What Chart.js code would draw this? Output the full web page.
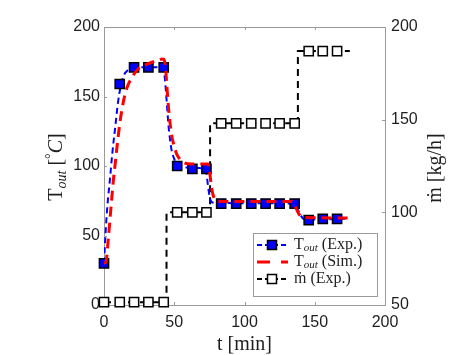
<!DOCTYPE html>
<html>
<head>
<meta charset="utf-8">
<script src="https://cdn.jsdelivr.net/npm/chart.js@4/dist/chart.umd.min.js"></script>
<style>html,body{margin:0;padding:0;background:#fff;}canvas{display:block;}</style>
</head>
<body>
<canvas id="c" width="474" height="355"></canvas>
<script>
// ---- data ----
const times   = [0, 11.2, 21.4, 31.6, 42.5, 52.1, 62.9, 72.9, 83.4, 94.1, 104.8, 115, 125, 135.7, 145.7, 155.7, 165.9];
const toutExp = [30, 159, 171, 171, 171, 100, 98, 98, 73, 73, 73, 73, 73, 73, 61, 62, 62];
const mdotExp = [51.5, 51.5, 51.5, 51.5, 51.5, 100, 100, 100, 148, 148, 148, 148, 148, 148, 187, 187, 187];
const mdotStepTimes = [44.5, 75.5, 138];
const mdotEndTime = 175;

const fitT = [0, 1, 2, 3, 4, 6, 8, 10, 12, 14, 16, 19, 22, 42, 43, 44, 45, 46, 47, 48, 50, 52, 55, 72, 73, 74, 75, 76, 78, 134, 136, 138, 140, 142, 145, 172];
const fitV = [30, 50, 66, 78, 88, 110, 128, 146, 158, 165, 168, 170, 171, 171, 166, 155, 141, 128, 119, 112, 105, 101, 99, 98, 94, 86, 79, 75, 73.5, 73, 72, 68.5, 64.5, 62, 61.5, 62];

const simT = [0, 1.4, 3, 4.7, 6.5, 7.8, 9.5, 11.3, 13, 14.8, 17, 19.5, 22, 25.5, 30, 35, 42, 43, 44, 45, 46, 47, 48, 50, 52, 55, 58, 62, 74, 75, 76, 77, 78, 80, 85, 134, 135, 137, 139, 141, 145, 174];
const simV = [30, 31, 47, 67, 88, 100, 116, 131, 142, 151, 158, 163, 167, 171, 173, 175, 177, 176, 168, 154, 141, 131, 123, 114, 108, 104, 102, 101.5, 101.5, 97, 89, 82, 78, 75, 74.5, 74.5, 73, 69, 65, 63.5, 63, 62.5];

const xTicks = [0, 50, 100, 150, 200];
const yLeftTicks = [0, 50, 100, 150, 200];
const yRightTicks = [50, 100, 150, 200];

const legendLabels = ['(Exp.)', '(Sim.)', '(Exp.)'];

// ---- build datasets ----
const pts = (xs, ys) => xs.map((x, i) => ({x: x, y: ys[i]}));
const mdotLine = [];
let k = 0;
times.forEach((t, i) => {
  mdotLine.push({x: t, y: mdotExp[i]});
  if (i < times.length - 1 && mdotExp[i + 1] !== mdotExp[i]) {
    mdotLine.push({x: mdotStepTimes[k], y: mdotExp[i], corner: true});
    mdotLine.push({x: mdotStepTimes[k], y: mdotExp[i + 1], corner: true});
    k++;
  }
});
mdotLine.push({x: mdotEndTime, y: mdotExp[mdotExp.length - 1], corner: true});

const AX = '#9a9a9a', TXT = '#1e1e1e';
const SERIF = '"Liberation Serif", "DejaVu Serif", serif';

function richWidth(ctx, parts) {
  let w = 0;
  parts.forEach(p => { ctx.font = p.f; w += ctx.measureText(p.t).width; });
  return w;
}
function drawRich(ctx, parts, x, y) {
  let cx = x;
  parts.forEach(p => {
    ctx.font = p.f;
    ctx.fillText(p.t, cx, y + (p.dy || 0));
    cx += ctx.measureText(p.t).width;
  });
}
function toutParts(size, rest) {
  return [
    {t: 'T', f: size + 'px ' + SERIF},
    {t: 'out', f: 'italic ' + Math.round(size * 0.7) + 'px ' + SERIF, dy: size * 0.22},
    {t: rest, f: size + 'px ' + SERIF}
  ];
}

const decor = {
  id: 'decor',
  beforeDatasetsDraw(chart) {
    const {ctx, chartArea: a, scales} = chart;
    ctx.save();
    ctx.strokeStyle = AX; ctx.lineWidth = 1;
    ctx.strokeRect(a.left + 0.5, a.top + 0.5, a.right - a.left, a.bottom - a.top);
    const tl = 3;
    ctx.beginPath();
    xTicks.forEach(v => {
      const px = Math.round(scales.x.getPixelForValue(v)) + 0.5;
      ctx.moveTo(px, a.bottom); ctx.lineTo(px, a.bottom - tl);
      ctx.moveTo(px, a.top); ctx.lineTo(px, a.top + tl);
    });
    yLeftTicks.forEach(v => {
      const py = Math.round(scales.y.getPixelForValue(v)) + 0.5;
      ctx.moveTo(a.left, py); ctx.lineTo(a.left + tl, py);
    });
    yRightTicks.forEach(v => {
      const py = Math.round(scales.y2.getPixelForValue(v)) + 0.5;
      ctx.moveTo(a.right, py); ctx.lineTo(a.right - tl, py);
    });
    ctx.stroke();
    ctx.restore();
  },
  afterDraw(chart) {
    const {ctx} = chart;
    ctx.save();
    ctx.fillStyle = TXT;
    ctx.textBaseline = 'middle';
    // left axis title
    const lp = [
      {t: 'T', f: '20px ' + SERIF},
      {t: 'out', f: 'italic 14px ' + SERIF, dy: 5},
      {t: ' [', f: '20px ' + SERIF},
      {t: '°', f: '14px ' + SERIF, dy: -6},
      {t: 'C', f: 'italic 20px ' + SERIF},
      {t: ']', f: '20px ' + SERIF}
    ];
    ctx.save();
    ctx.translate(57, 167);
    ctx.rotate(-Math.PI / 2);
    drawRich(ctx, lp, -richWidth(ctx, lp) / 2, 0);
    ctx.restore();
    // right axis title
    const rp = [{t: 'ṁ [kg/h]', f: '20px ' + SERIF}];
    ctx.save();
    ctx.translate(436, 168);
    ctx.rotate(-Math.PI / 2);
    drawRich(ctx, rp, -richWidth(ctx, rp) / 2, 0);
    ctx.restore();

    // legend
    const bx = 253, by = 233, bw = 124, bh = 63;
    ctx.fillStyle = '#fff';
    ctx.fillRect(bx, by, bw, bh);
    ctx.strokeStyle = AX; ctx.lineWidth = 1;
    ctx.strokeRect(bx + 0.5, by + 0.5, bw, bh);
    const rows = [245, 262, 279];
    const lx0 = 257, lx1 = 288, mx = 272, s = 9;
    // row 1
    ctx.strokeStyle = '#0000ff'; ctx.lineWidth = 2; ctx.setLineDash([5, 3]);
    ctx.beginPath(); ctx.moveTo(lx0, rows[0]); ctx.lineTo(lx1, rows[0]); ctx.stroke();
    ctx.setLineDash([]);
    ctx.fillStyle = '#0000ff'; ctx.fillRect(mx - s / 2, rows[0] - s / 2, s, s);
    ctx.strokeStyle = '#000'; ctx.lineWidth = 1.5; ctx.strokeRect(mx - s / 2, rows[0] - s / 2, s, s);
    // row 2
    ctx.strokeStyle = '#ff0000'; ctx.lineWidth = 3; ctx.setLineDash([13, 11]);
    ctx.beginPath(); ctx.moveTo(lx0, rows[1]); ctx.lineTo(lx1, rows[1]); ctx.stroke();
    ctx.setLineDash([]);
    // row 3
    ctx.strokeStyle = '#000'; ctx.lineWidth = 2; ctx.setLineDash([5, 3]);
    ctx.beginPath(); ctx.moveTo(lx0, rows[2]); ctx.lineTo(lx1, rows[2]); ctx.stroke();
    ctx.setLineDash([]);
    ctx.fillStyle = '#fff'; ctx.fillRect(mx - s / 2, rows[2] - s / 2, s, s);
    ctx.strokeStyle = '#000'; ctx.lineWidth = 1.5; ctx.strokeRect(mx - s / 2, rows[2] - s / 2, s, s);
    // texts
    ctx.fillStyle = TXT;
    drawRich(ctx, toutParts(16, ' ' + legendLabels[0]), 294, rows[0]);
    drawRich(ctx, toutParts(16, ' ' + legendLabels[1]), 294, rows[1]);
    drawRich(ctx, [{t: 'ṁ ' + legendLabels[2], f: '16px ' + SERIF}], 294, rows[2]);
    ctx.restore();
  }
};

const tickFont = {family: '"Liberation Sans", Arial, sans-serif', size: 16};

new Chart(document.getElementById('c'), {
  type: 'scatter',
  data: {
    datasets: [
      {
        label: 'Tout (Sim.)', data: pts(simT, simV), yAxisID: 'y', showLine: true,
        borderColor: '#ff0000', borderWidth: 3, borderDash: [10, 6], pointRadius: 0,
        cubicInterpolationMode: 'monotone', fill: false
      },
      {
        label: 'Tout (Exp.) markers', data: pts(times, toutExp), yAxisID: 'y', showLine: false,
        pointStyle: 'rect', pointRadius: 6.5, pointHoverRadius: 6.5,
        backgroundColor: '#0000ff', borderColor: '#000', borderWidth: 1.5, clip: false
      },
      {
        label: 'Tout (Exp.)', data: pts(fitT, fitV), yAxisID: 'y', showLine: true,
        borderColor: '#0000ff', borderWidth: 2, borderDash: [6, 4], pointRadius: 0,
        cubicInterpolationMode: 'monotone', fill: false
      },
      {
        label: 'mdot (Exp.)', data: mdotLine, yAxisID: 'y2', showLine: true,
        borderColor: '#000', borderWidth: 2, borderDash: [7, 5],
        pointStyle: 'rect',
        pointRadius: c => (c.raw && c.raw.corner) ? 0 : 6.5,
        pointHoverRadius: c => (c.raw && c.raw.corner) ? 0 : 6.5,
        pointBackgroundColor: '#fff', pointBorderColor: '#000', pointBorderWidth: 1.5,
        clip: false, fill: false
      }
    ]
  },
  options: {
    responsive: false, animation: false, devicePixelRatio: 1,
    layout: {padding: {top: 27, left: 0, right: 0, bottom: 0}},
    plugins: {legend: {display: false}, tooltip: {enabled: false}},
    scales: {
      x: {
        type: 'linear', min: 0, max: 200,
        afterBuildTicks: s => { s.ticks = xTicks.map(v => ({value: v})); },
        afterFit: s => { s.height = 50; },
        grid: {display: false, drawTicks: false}, border: {display: false},
        ticks: {font: tickFont, color: TXT, padding: 8, maxRotation: 0},
        title: {display: true, text: 't [min]', color: TXT,
          font: {family: SERIF, size: 20}, padding: {top: 0, bottom: -2}}
      },
      y: {
        type: 'linear', position: 'left', min: 0, max: 200,
        afterBuildTicks: s => { s.ticks = yLeftTicks.map(v => ({value: v})); },
        afterFit: s => { s.width = 104; },
        grid: {display: false, drawTicks: false}, border: {display: false},
        ticks: {font: tickFont, color: TXT, padding: 4}
      },
      y2: {
        type: 'linear', position: 'right', min: 50, max: 200,
        afterBuildTicks: s => { s.ticks = yRightTicks.map(v => ({value: v})); },
        afterFit: s => { s.width = 89; },
        grid: {display: false, drawTicks: false}, border: {display: false},
        ticks: {font: tickFont, color: TXT, padding: 6}
      }
    }
  },
  plugins: [decor]
});
</script>
</body>
</html>
